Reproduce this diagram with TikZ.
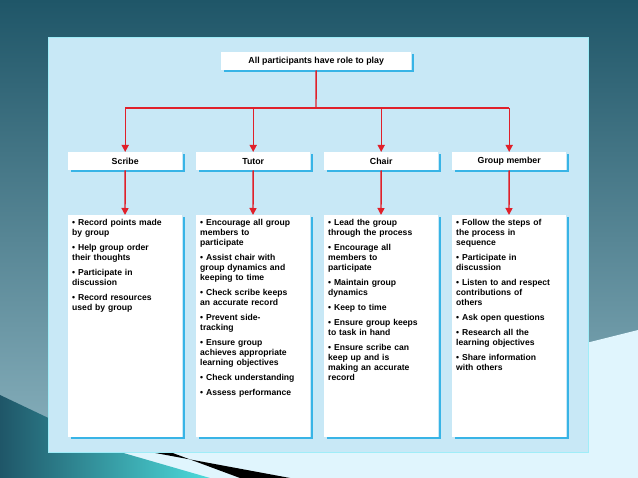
\documentclass[tikz,border=0pt]{standalone}
\usepackage{fontspec}
\setmainfont{Liberation Sans}
\usetikzlibrary{arrows.meta}
\definecolor{rd}{HTML}{E0202A}
\definecolor{bgtop}{HTML}{1F5668}
\definecolor{bgbot}{HTML}{8FB6C2}
\definecolor{pan}{HTML}{C8E8F6}
\definecolor{shc}{HTML}{38B4E6}
\begin{document}
\begin{tikzpicture}[x=1pt,y=-1pt,
 box/.style={fill=white,inner sep=0pt,font=\bfseries\fontsize{8.8}{10}\selectfont},
 arr/.style={color=rd,line width=1.4pt,-{Triangle[length=7pt,width=7pt]}},
 sh/.style={draw=shc,line width=2.2pt}]
\useasboundingbox (0,0) rectangle (638,478);
\shade[top color=bgtop,bottom color=bgbot] (0,0) rectangle (638,478);
\fill[color=white!88!cyan] (0,478) -- (638,478) -- (638,330) -- (240,430) -- cycle;
\shade[left color=bgtop,right color=cyan!60!teal!70] (0,395) -- (120,452) -- (210,478) -- (0,478) -- cycle;
\fill[black] (150,452) -- (290,478) -- (240,478) -- (170,452) -- cycle;
\fill[pan] (48,37) rectangle (588,452);
\draw[pan!80!cyan,line width=0.6pt] (48,37) rectangle (588,452);
\draw[sh] (224,71) -- (413,71) -- (413,54);
\node[box,minimum width=190pt,minimum height=18pt,anchor=north west] (top) at (221,52) {All participants have role to play};
\draw[color=rd,line width=1.4pt] (top.south) -- (316,108) coordinate (j);
\foreach \n/\x/\t in {s/68/Scribe,t/196/Tutor,c/324/Chair,g/452/Group member}{
 \draw[sh] (\x+3,171) -- (\x+116,171) -- (\x+116,154);
 \node[box,minimum width=114pt,minimum height=18pt,anchor=north west] (\n) at (\x,152) {\t};
 \draw[sh] (\x+3,438) -- (\x+116,438) -- (\x+116,217);
 \fill[white] (\x,215) rectangle (\x+114,437);
 \coordinate (\n b) at (\x+57,215);
}
\draw[color=rd,line width=1.4pt] (s.north|-j) -- (g.north|-j);
\foreach \n in {s,t,c,g}{\draw[arr] (\n.north|-j) -- (\n.north); \draw[arr] (\n.south) -- (\n b);}
\tikzset{lst/.style={anchor=north west,inner sep=0pt,text width=110pt,align=left,font=\bfseries\fontsize{8.6}{10}\selectfont}}
\newcommand{\itm}[1]{\hangindent=7pt\hangafter=1 • #1\par\vspace{5pt}}
\node[lst] at (72,219) {\itm{Record points made\\by group}\itm{Help group order\\their thoughts}\itm{Participate in\\discussion}\itm{Record resources\\used by group}};
\node[lst] at (200,219) {\itm{Encourage all group\\members to\\participate}\itm{Assist chair with\\group dynamics and\\keeping to time}\itm{Check scribe keeps\\an accurate record}\itm{Prevent side-\\tracking}\itm{Ensure group\\achieves appropriate\\learning objectives}\itm{Check understanding}\itm{Assess performance}};
\node[lst] at (328,219) {\itm{Lead the group\\through the process}\itm{Encourage all\\members to\\participate}\itm{Maintain group\\dynamics}\itm{Keep to time}\itm{Ensure group keeps\\to task in hand}\itm{Ensure scribe can\\keep up and is\\making an accurate\\record}};
\node[lst] at (456,219) {\itm{Follow the steps of\\the process in\\sequence}\itm{Participate in\\discussion}\itm{Listen to and respect\\contributions of\\others}\itm{Ask open questions}\itm{Research all the\\learning objectives}\itm{Share information\\with others}};
\end{tikzpicture}
\end{document}
